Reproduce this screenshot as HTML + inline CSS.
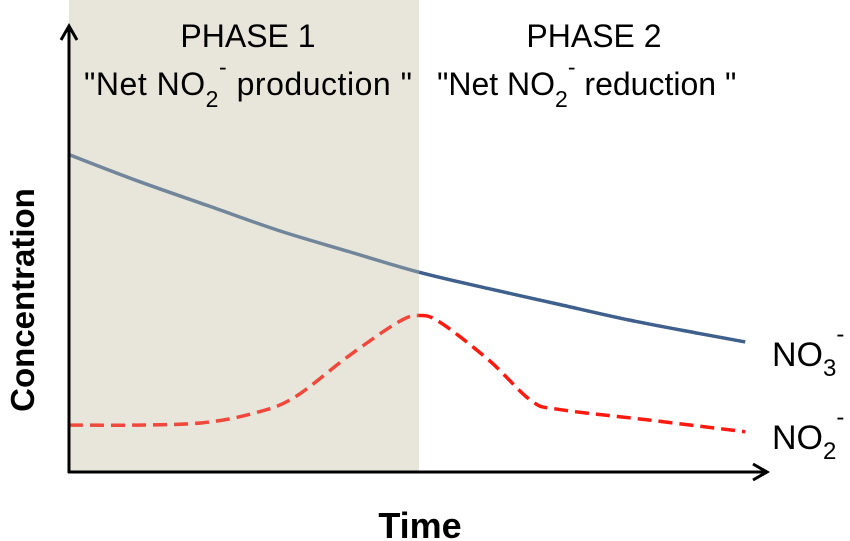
<!DOCTYPE html>
<html><head><meta charset="utf-8"><style>
html,body{margin:0;padding:0;background:#fff}
svg{display:block;font-family:"Liberation Sans",Arial,sans-serif}
</style></head><body>
<svg id="chart" width="850" height="541" viewBox="0 0 850 541">
<rect x="69" y="0" width="350" height="472" fill="#e8e6da"/>
<g id="series"></g>
<line x1="69" y1="473" x2="69" y2="26" stroke="#000" stroke-width="3"/>
<polyline points="61,40 69,26 77,40" fill="none" stroke="#000" stroke-width="3"/>
<line x1="68" y1="472" x2="766" y2="472" stroke="#000" stroke-width="3"/>
<polyline points="753,464 767,472 753,480" fill="none" stroke="#000" stroke-width="3"/>
<text x="248" y="47" font-size="32" text-anchor="middle">PHASE 1</text>
<text x="84" y="95" font-size="32" textLength="328">"Net NO<tspan font-size="23" dy="12">2</tspan><tspan font-size="23" dy="-32">-</tspan><tspan dy="20"> production "</tspan></text>
<text x="594" y="47" font-size="32" text-anchor="middle">PHASE 2</text>
<text x="437" y="95" font-size="32">"Net NO<tspan font-size="23" dy="12">2</tspan><tspan font-size="23" dy="-32">-</tspan><tspan dy="20"> reduction "</tspan></text>
<text x="772" y="366" font-size="34">NO<tspan font-size="24" dy="10">3</tspan><tspan font-size="24" dy="-34">-</tspan></text>
<text x="772" y="449" font-size="34">NO<tspan font-size="24" dy="10">2</tspan><tspan font-size="24" dy="-34">-</tspan></text>
<text transform="translate(34,300) rotate(-90)" font-size="33" font-weight="bold" text-anchor="middle">Concentration</text>
<text x="420" y="538" font-size="36" font-weight="bold" text-anchor="middle">Time</text>
</svg>
<script>
const times = [0,1,2,3,4,5,6,7,8,9,9.66];
const no3 = [7.1,6.5,5.95,5.4,4.93,4.47,4.1,3.75,3.4,3.1,2.91];
const no2Times = [0,1,1.9,2.6,3.2,4,4.7,5,5.3,6,6.6,7,8.3,9.66];
const no2 = [1.05,1.05,1.1,1.3,1.65,2.6,3.35,3.5,3.35,2.5,1.6,1.4,1.16,0.9];
const phaseBoundary = 5;
const X = t => 69 + t*70;
const Y = c => 472 - c*44.7;
function path(ts, vs, from, to){
  const p = ts.map((t,i)=>[X(t),Y(vs[i])]);
  let d = '';
  for(let i=0;i<p.length-1;i++){
    if(ts[i] < from || ts[i+1] > to) continue;
    const p0=p[Math.max(0,i-1)],p1=p[i],p2=p[i+1],p3=p[Math.min(p.length-1,i+2)];
    if(!d) d='M'+p1[0]+','+p1[1];
    const c1=[p1[0]+(p2[0]-p0[0])/6,p1[1]+(p2[1]-p0[1])/6];
    const c2=[p2[0]-(p3[0]-p1[0])/6,p2[1]-(p3[1]-p1[1])/6];
    d+=` C${c1[0]},${c1[1]} ${c2[0]},${c2[1]} ${p2[0]},${p2[1]}`;
  }
  return d;
}
const g = document.getElementById('series');
function add(name, d, color, dash){
  const el = document.createElementNS('http://www.w3.org/2000/svg','path');
  
  
  el.setAttribute('d', d);
  el.setAttribute('fill','none');
  el.setAttribute('stroke',color);
  el.setAttribute('stroke-width','3.5');
  if(dash) el.setAttribute('stroke-dasharray',dash);
  g.appendChild(el);
}
add('no3-line-phase-1', path(times,no3,0,phaseBoundary), '#71869a');
add('no3-line-phase-2', path(times,no3,phaseBoundary,99), '#3f5f8d');
add('no2-line-phase-1', path(no2Times,no2,0,phaseBoundary), '#f0483c', '14 7');
add('no2-line-phase-2', path(no2Times,no2,phaseBoundary,99), '#ff1a10', '14 7');
</script>
</body></html>
